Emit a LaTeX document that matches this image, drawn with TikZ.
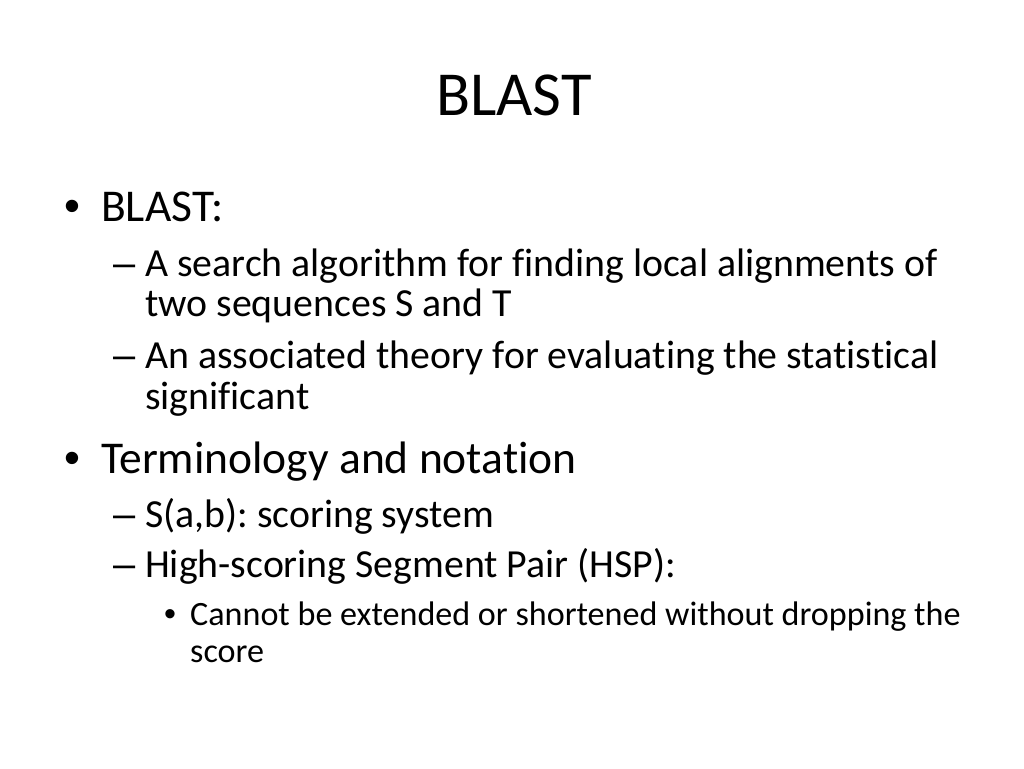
\documentclass[tikz,border=0pt]{standalone}
\usepackage{fontspec}
\setmainfont{Carlito}[RawFeature={-liga;-clig;-dlig}]
\newfontfamily\bulletfont{Liberation Sans}
\frenchspacing
\begin{document}
\begin{tikzpicture}[x=1pt,y=-1pt,inner sep=0pt]
    \tikzstyle{heading}=[anchor=base,font=\fontsize{62.6}{70}\selectfont]
    \tikzstyle{lvlone}=[anchor=base west,font=\fontsize{45.5}{50}\selectfont]
    \tikzstyle{lvltwo}=[anchor=base west,font=\fontsize{39.8}{44}\selectfont]
    \tikzstyle{lvlthree}=[anchor=base west,font=\fontsize{34.1}{38}\selectfont]

    \useasboundingbox (0,0) rectangle (1024,768);
    \fill[white] (0,0) rectangle (1024,768);

    \node[heading] (title) at (514,115) {BLAST};

    % first level
    \node[lvlone] (B-1) at (64,221) {\bulletfont •};
    \node[lvlone] (T-1) at (101,221) {BLAST:};
    \node[lvlone] (B-2) at (64,473) {\bulletfont •};
    \node[lvlone] (T-2) at (101,473) {Terminology and notation};

    % second level
    \foreach \n/\y in {1/276,2/368,3/527,4/577}
    \node[lvltwo] (D-\n) at (113,\y) {\bulletfont –};
    \node[lvltwo] (S-1) at (145,276) {A search algorithm for finding local alignments of};
    \node[lvltwo] (S-1b) at (145,316) {two sequences S and T};
    \node[lvltwo] (S-2) at (145,368) {An associated theory for evaluating the statistical};
    \node[lvltwo] (S-2b) at (145,409) {significant};
    \node[lvltwo] (S-3) at (145,527) {S(a,b): scoring system};
    \node[lvltwo] (S-4) at (145,577) {High-scoring Segment Pair (HSP):};

    % third level
    \node[lvlthree] (P-1) at (164,625) {\bulletfont •};
    \node[lvlthree] (C-1) at (190,625) {Cannot be extended or shortened without dropping the};
    \node[lvlthree] (C-1b) at (190,662) {score};
  \end{tikzpicture}
\end{document}
